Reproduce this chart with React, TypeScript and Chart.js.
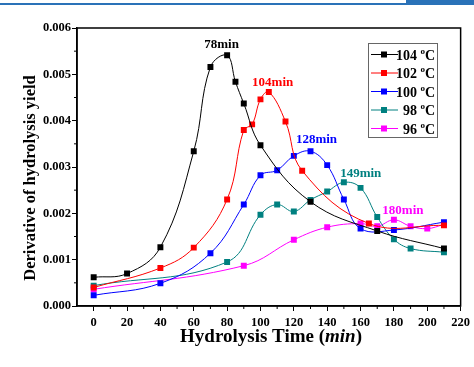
import React, { useEffect, useRef } from "react";
import { Chart, registerables } from "chart.js";
Chart.register(...registerables);

const seriesNames = ["104 °C", "102 °C", "100 °C", "98 °C", "96 °C"];
const seriesColors = ["#000000", "#ff0000", "#0000ff", "#008080", "#ff00ff"];

const t104 = [0, 20, 40, 60, 70, 80, 85, 90, 100, 130, 170, 210];
const v104 = [0.00062, 0.0007, 0.00127, 0.00334, 0.00516, 0.00541, 0.00484, 0.00437, 0.00347, 0.00225, 0.00162, 0.00124];
const t102 = [0, 40, 60, 80, 90, 95, 100, 105, 115, 125, 165, 210];
const v102 = [0.0004, 0.00082, 0.00126, 0.0023, 0.0038, 0.00392, 0.00446, 0.00462, 0.00398, 0.00292, 0.00178, 0.00174];
const t100 = [0, 40, 70, 90, 100, 110, 120, 130, 140, 150, 160, 180, 210];
const v100 = [0.00023, 0.00049, 0.00114, 0.00219, 0.00282, 0.00293, 0.00324, 0.00334, 0.00304, 0.0023, 0.00167, 0.00164, 0.00181];
const t98 = [0, 80, 100, 110, 120, 130, 140, 150, 160, 170, 180, 190, 210];
const v98 = [0.00044, 0.00095, 0.00197, 0.00219, 0.00204, 0.00229, 0.00247, 0.00267, 0.00255, 0.00192, 0.00144, 0.00124, 0.00116];
const t96 = [0, 90, 120, 140, 160, 170, 180, 190, 200, 210];
const v96 = [0.00036, 0.00087, 0.00143, 0.0017, 0.00178, 0.00172, 0.00186, 0.00172, 0.00167, 0.00176];

const seriesT = [t104, t102, t100, t98, t96];
const seriesV = [v104, v102, v100, v98, v96];

const peakLabels = ["78min", "104min", "128min", "149min", "180min"];
const peakLabelX = [76.7, 107.3, 133.6, 160.1, 185.4];
const peakLabelY = [0.00565, 0.00483, 0.0036, 0.00286, 0.00206];

const xTicks = [0, 20, 40, 60, 80, 100, 120, 140, 160, 180, 200, 220];
const yTicks = [0, 0.001, 0.002, 0.003, 0.004, 0.005, 0.006];

const SERIF = "'Liberation Serif', 'DejaVu Serif', serif";

const decorPlugin = {
  id: "decor",
  afterDraw(chart: any) {
    const ctx = chart.ctx;
    const { left, right, top, bottom } = chart.chartArea;
    const xs = chart.scales.x;
    const ys = chart.scales.y;
    ctx.save();
    // box
    ctx.strokeStyle = "#000";
    ctx.lineWidth = 1.5;
    ctx.strokeRect(left, top, right - left, bottom - top);
    // minor ticks
    ctx.lineWidth = 1;
    for (let v = 10; v < 220; v += 20) {
      const px = xs.getPixelForValue(v);
      ctx.beginPath();
      ctx.moveTo(px, bottom);
      ctx.lineTo(px, bottom + 3);
      ctx.stroke();
    }
    for (let v = 0.0005; v < 0.006; v += 0.001) {
      const py = ys.getPixelForValue(v);
      ctx.beginPath();
      ctx.moveTo(left, py);
      ctx.lineTo(left - 3, py);
      ctx.stroke();
    }
    // peak labels
    ctx.font = `bold 13px ${SERIF}`;
    ctx.textAlign = "center";
    ctx.textBaseline = "middle";
    peakLabels.forEach((lab, i) => {
      ctx.fillStyle = seriesColors[i];
      ctx.fillText(lab, xs.getPixelForValue(peakLabelX[i]), ys.getPixelForValue(peakLabelY[i]));
    });
    // legend
    const lx = 368, ly = 43, lw = 69, lh = 94;
    ctx.fillStyle = "#fff";
    ctx.fillRect(lx, ly, lw, lh);
    ctx.strokeStyle = "#666";
    ctx.lineWidth = 1;
    ctx.strokeRect(lx + 0.5, ly + 0.5, lw, lh);
    seriesNames.forEach((name, i) => {
      const y = ly + 11.5 + i * 18.5;
      ctx.strokeStyle = seriesColors[i];
      ctx.beginPath();
      ctx.moveTo(371, y);
      ctx.lineTo(398, y);
      ctx.stroke();
      ctx.fillStyle = seriesColors[i];
      ctx.fillRect(381, y - 3, 6, 6);
      const num = name.split(" ")[0] + " ";
      ctx.fillStyle = "#000";
      ctx.font = `bold 14px ${SERIF}`;
      ctx.textBaseline = "alphabetic";
      ctx.textAlign = "left";
      const wNum = ctx.measureText(num).width;
      const wC = ctx.measureText("C").width;
      ctx.font = `bold 9px ${SERIF}`;
      const wDeg = ctx.measureText("o").width;
      const endX = 435;
      const startX = endX - wC - wDeg - wNum;
      ctx.font = `bold 14px ${SERIF}`;
      ctx.fillText(num, startX, y + 5);
      ctx.fillText("C", startX + wNum + wDeg, y + 5);
      ctx.font = `bold 9px ${SERIF}`;
      ctx.fillText("o", startX + wNum, y - 1);
    });
    // x title
    ctx.fillStyle = "#000";
    ctx.textBaseline = "middle";
    ctx.textAlign = "left";
    const p1 = "Hydrolysis Time (";
    const p2 = "min";
    const p3 = ")";
    const fs = 19;
    ctx.font = `bold ${fs}px ${SERIF}`;
    const w1 = ctx.measureText(p1).width;
    const w3 = ctx.measureText(p3).width;
    ctx.font = `bold italic ${fs}px ${SERIF}`;
    const w2 = ctx.measureText(p2).width;
    let sx = 271 - (w1 + w2 + w3) / 2;
    const ty = 337;
    ctx.font = `bold ${fs}px ${SERIF}`;
    ctx.fillText(p1, sx, ty);
    ctx.font = `bold italic ${fs}px ${SERIF}`;
    ctx.fillText(p2, sx + w1, ty);
    ctx.font = `bold ${fs}px ${SERIF}`;
    ctx.fillText(p3, sx + w1 + w2, ty);
    // y title
    ctx.save();
    ctx.translate(31, 178);
    ctx.rotate(-Math.PI / 2);
    ctx.textAlign = "center";
    ctx.font = `bold 16.5px ${SERIF}`;
    ctx.fillText("Derivative of hydrolysis yield", 0, 0);
    ctx.restore();
    // header stripe
    ctx.fillStyle = "#2a72b8";
    ctx.fillRect(0, 3, 474, 2);
    ctx.fillRect(406, 0, 68, 5);
    ctx.restore();
  },
};

export default function App() {
  const ref = useRef<HTMLCanvasElement | null>(null);
  useEffect(() => {
    if (!ref.current) return;
    const datasets = seriesNames.map((name, i) => ({
      label: name,
      data: seriesT[i].map((t, j) => ({ x: t, y: seriesV[i][j] })),
      borderColor: seriesColors[i],
      backgroundColor: seriesColors[i],
      borderWidth: 1,
      pointStyle: "rect",
      pointRadius: 4.2,
      pointBorderWidth: 0,
      tension: 0.4,
    }));
    const chart = new Chart(ref.current, {
      type: "line",
      data: { datasets },
      plugins: [decorPlugin],
      options: {
        animation: false,
        responsive: false,
        maintainAspectRatio: false,
        layout: { padding: { left: 0, right: 12, top: 28, bottom: 0 } },
        plugins: { legend: { display: false }, tooltip: { enabled: false } },
        scales: {
          x: {
            type: "linear",
            min: -10,
            max: 220,
            afterBuildTicks: (s: any) => {
              s.ticks = xTicks.map((v) => ({ value: v }));
            },
            afterFit: (s: any) => {
              s.height = 61;
            },
            grid: { drawOnChartArea: false, tickLength: 5, color: "#000", lineWidth: 1 },
            border: { color: "#000", width: 1.5 },
            ticks: {
              color: "#000",
              padding: 4,
              maxRotation: 0,
              font: { family: SERIF, weight: "bold", size: 12.5 },
            },
          },
          y: {
            type: "linear",
            min: 0,
            max: 0.006,
            afterBuildTicks: (s: any) => {
              s.ticks = yTicks.map((v) => ({ value: v }));
            },
            afterFit: (s: any) => {
              s.width = 77;
            },
            grid: { drawOnChartArea: false, tickLength: 5, color: "#000", lineWidth: 1 },
            border: { color: "#000", width: 1.5 },
            ticks: {
              color: "#000",
              padding: 1,
              callback: (v: any) => Number(v).toFixed(3),
              font: { family: SERIF, weight: "bold", size: 12.5 },
            },
          },
        },
      } as any,
    });
    return () => chart.destroy();
  }, []);
  return (
    <div style={{ position: "fixed", left: 0, top: 0, width: 474, height: 367, background: "#fff" }}>
      <canvas ref={ref} width={474} height={367} style={{ width: 474, height: 367 }} />
    </div>
  );
}
